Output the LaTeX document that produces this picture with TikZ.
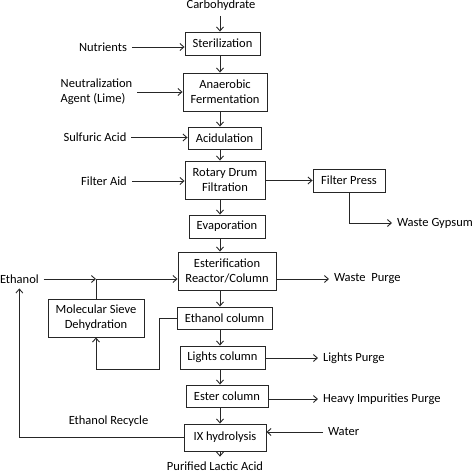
\documentclass[tikz,border=0pt]{standalone}
\usepackage{fontspec}
\setmainfont{Carlito}
\usetikzlibrary{arrows.meta,positioning}
\tikzset{
    every node/.style={font=\fontsize{12.5}{15}\selectfont, text=black},
    unit/.style={draw=black!85, line width=0.9pt, align=center, inner sep=1pt},
    stream/.style={inner sep=1pt, outer sep=4pt, align=left},
    flow/.style={draw=black!85, line width=0.9pt, -{Straight Barb[length=4pt,width=7pt]}},
    pipe/.style={draw=black!85, line width=0.9pt}
}

\begin{document}
\begin{tikzpicture}[x=1pt,y=-1pt]
    \useasboundingbox (0,0) rectangle (474,474);
    % spine of the main column
    \coordinate (spine) at (220,0);

    % Process units
    \node[unit, minimum width=75pt, minimum height=23pt] (steril) at (222.5,43.5) {Sterilization};
    \node[unit, minimum width=84pt, minimum height=38pt] (ferm) at (225,92) {Anaerobic\\Fermentation};
    \node[unit, minimum width=73pt, minimum height=22pt] (acid) at (224.5,138) {Acidulation};
    \node[unit, minimum width=80pt, minimum height=38pt] (rotary) at (225,180) {Rotary Drum\\Filtration};
    \node[unit, minimum width=72pt, minimum height=23pt] (fpress) at (349,180.5) {Filter Press};
    \node[unit, minimum width=76pt, minimum height=23pt] (evap) at (227,226.5) {Evaporation};
    \node[unit, minimum width=98pt, minimum height=38pt] (ester) at (227,271) {Esterification\\Reactor/Column};
    \node[unit, minimum width=96pt, minimum height=38pt] (msieve) at (96,318) {Molecular Sieve\\Dehydration};
    \node[unit, minimum width=95pt, minimum height=22pt] (ethcol) at (224.5,318) {Ethanol column};
    \node[unit, minimum width=85pt, minimum height=23pt] (lights) at (222.5,357.5) {Lights column};
    \node[unit, minimum width=82pt, minimum height=22pt] (estcol) at (227,396) {Ester column};
    \node[unit, minimum width=82pt, minimum height=27pt] (ix) at (225,437.5) {IX hydrolysis};

    % Streams in and out
    \node[stream] (carbo) at (221,5.5) {Carbohydrate};
    \node[stream] (nutr) at (103,47) {Nutrients};
    \node[stream] (lime) at (96.5,92) {Neutralization\\Agent (Lime)};
    \node[stream] (sulf) at (95,137.5) {Sulfuric Acid};
    \node[stream] (faid) at (104,181) {Filter Aid};
    \node[stream, anchor=west] (gypsum) at (392,223) {Waste Gypsum};
    \node[stream, anchor=west] (eth) at (-5,279) {Ethanol};
    \node[stream, anchor=west] (wpurge) at (329,279) {Waste\ \ Purge};
    \node[stream, anchor=west] (lpurge) at (318,358) {Lights Purge};
    \node[stream, anchor=west] (hpurge) at (318,399) {Heavy Impurities Purge};
    \node[stream, anchor=west] (water) at (323,432) {Water};
    \node[stream] (recyc) at (108.5,421) {Ethanol Recycle};
    \node[stream] (lactic) at (215,466) {Purified Lactic Acid};
    \coordinate (junc) at (96,279);

    % Main column
    \draw[flow] (carbo.south -| spine) -- (steril.north -| spine);
    \draw[flow] (steril.south -| spine) -- (ferm.north -| spine);
    \draw[flow] (ferm.south -| spine) -- (acid.north -| spine);
    \draw[flow] (acid.south -| spine) -- (rotary.north -| spine);
    \draw[flow] (rotary.south -| spine) -- (evap.north -| spine);
    \draw[flow] (evap.south -| spine) -- (ester.north -| spine);
    \draw[flow] (ester.south -| spine) -- (ethcol.north -| spine);
    \draw[flow] (ethcol.south -| spine) -- (lights.north -| spine);
    \draw[flow] (lights.south -| spine) -- (estcol.north -| spine);
    \draw[flow] (estcol.south -| spine) -- (ix.north -| spine);
    \draw[flow] (ix.south -| spine) -- (lactic.north -| spine);

    % Feeds from the left
    \draw[flow] (nutr.east) -- (nutr.east -| steril.west);
    \draw[flow] (lime.east) -- (lime.east -| ferm.west);
    \draw[flow] (sulf.east) -- (sulf.east -| acid.west);
    \draw[flow] (faid.east) -- (faid.east -| rotary.west);

    % Side products
    \draw[flow] (rotary.east |- fpress.west) -- (fpress.west);
    \draw[flow] (fpress.south) |- (gypsum.west);
    \draw[flow] (wpurge.west -| ester.east) -- (wpurge.west);
    \draw[flow] (lpurge.west -| lights.east) -- (lpurge.west);
    \draw[flow] (hpurge.west -| estcol.east) -- (hpurge.west);
    \draw[flow] (water.west) -- (water.west -| ix.east);

    % Ethanol loop
    \draw[flow] (eth.east) -- (junc);
    \draw[flow] (junc) -- (junc -| ester.west);
    \draw[pipe] (msieve.north) -- (junc);
    \draw[flow] (ethcol.west) -| (159,369) -| (msieve.south);
    \draw[flow] (ix.west) -| (eth.south);
\end{tikzpicture}
\end{document}
